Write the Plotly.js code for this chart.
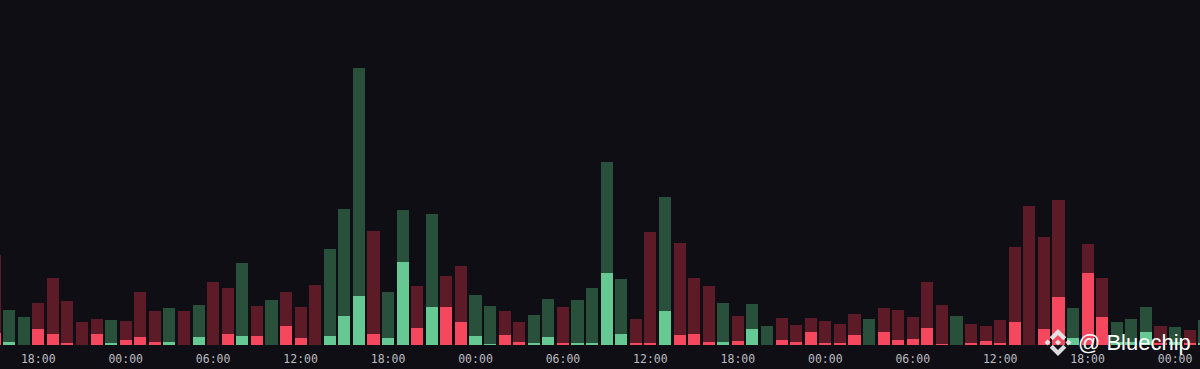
<!DOCTYPE html>
<html>
<head>
<meta charset="utf-8">
<script src="https://cdn.plot.ly/plotly-3.0.1.min.js"></script>
<style>
  html, body { margin: 0; padding: 0; background: #0e0e14; }
  #chart { width: 1200px; height: 369px; }
</style>
</head>
<body>
<div id="chart"></div>
<script>
// Hourly bars, first bar at 15:00 on day 0
const START = '2024-03-10T15:00:00Z';
// side of each hour: B = buy-dominant (green), S = sell-dominant (red)
const side = [
  'S','B','B','S','S','S','S','S','B','S','S','S','B','S','B','S','S','B','S','B',
  'S','S','S','B','B','B','S','B','B','S','B','S','S','B','B','S','S','B','B','S',
  'B','B','B','B','S','S','B','S','S','S','B','S','B','B','S','S','S','S','S','S',
  'B','S','S','S','S','S','B','S','S','S','S','S','S','S','B','S','S','B','B','B',
  'S','B','S','B'
];
// total volume per hour
const totalVol = [
  90.0, 35.0, 28.3, 41.7, 66.7, 44.0, 23.3, 26.0, 25.0, 24.3,
  52.7, 34.0, 37.0, 34.3, 40.5, 62.7, 56.7, 82.0, 39.3, 45.0,
  52.7, 38.0, 60.0, 95.7, 136.0, 276.7, 114.0, 53.3, 135.0, 58.7,
  130.7, 68.7, 78.7, 50.0, 39.0, 33.7, 22.7, 29.7, 46.0, 38.0,
  44.7, 56.7, 183.3, 65.7, 25.7, 112.7, 148.0, 102.0, 67.0, 59.3,
  41.7, 29.0, 41.3, 19.0, 26.7, 20.0, 26.7, 24.0, 21.3, 30.7,
  26.0, 37.0, 35.0, 28.3, 63.3, 40.3, 29.3, 21.3, 19.0, 24.7,
  97.7, 139.0, 108.0, 144.7, 37.0, 101.0, 67.3, 23.3, 25.7, 38.3,
  19.3, 18.3, 15.0, 25.0
];
// highlighted (large-trade) part of each hour's volume
const highlightVol = [
  11.7, 3.0, 0.0, 15.7, 11.0, 2.3, 0.0, 10.7, 2.3, 5.0,
  8.3, 3.3, 3.0, 0.0, 7.8, 0.0, 11.0, 9.0, 9.0, 0.0,
  19.0, 7.3, 0.0, 8.7, 29.0, 49.3, 10.7, 6.7, 83.5, 17.3,
  38.0, 38.0, 22.7, 9.0, 1.5, 9.7, 3.3, 2.3, 8.3, 2.3,
  2.0, 2.0, 71.7, 11.3, 2.3, 2.0, 33.7, 10.0, 11.0, 3.3,
  3.0, 4.0, 15.7, 0.0, 4.7, 3.3, 13.3, 1.7, 2.0, 10.0,
  0.0, 13.0, 5.3, 6.3, 17.0, 1.3, 0.0, 2.0, 4.3, 2.0,
  23.0, 0.0, 16.0, 48.3, 7.0, 72.3, 27.7, 3.3, 3.0, 13.3,
  2.0, 3.0, 2.0, 2.0
];

const HOUR = 3600000;
const t0 = Date.parse(START);
function fmt(ms) {
  const d = new Date(ms);
  const p = n => String(n).padStart(2, '0');
  return d.getUTCFullYear() + '-' + p(d.getUTCMonth() + 1) + '-' + p(d.getUTCDate()) +
    ' ' + p(d.getUTCHours()) + ':' + p(d.getUTCMinutes()) + ':' + p(d.getUTCSeconds());
}
const times = totalVol.map((_, i) => fmt(t0 + i * HOUR));

const DARK = { B: '#29503a', S: '#5c1b27' };
const BRIGHT = { B: '#66c892', S: '#f5485f' };

const barW = 0.83 * HOUR;

const traces = [
  {
    type: 'bar', x: times, y: totalVol, width: barW,
    marker: { color: side.map(s => DARK[s]), line: { width: 0 } },
    hoverinfo: 'skip', showlegend: false
  },
  {
    type: 'bar', x: times, y: highlightVol, width: barW,
    marker: { color: side.map(s => BRIGHT[s]), line: { width: 0 } },
    hoverinfo: 'skip', showlegend: false
  }
];

const logoSvg = "<svg xmlns='http://www.w3.org/2000/svg' viewBox='0 0 126.61 126.61'><g fill='#e8e8ea'>" +
  "<path d='M38.73 53.2 L63.3 28.63 L87.88 53.21 L102.18 38.91 L63.3 0 L24.43 38.87 Z'/>" +
  "<path d='M0 63.31 L14.3 49.01 L28.6 63.31 L14.3 77.61 Z'/>" +
  "<path d='M38.73 73.41 L63.3 97.98 L87.88 73.4 L102.19 87.69 L63.3 126.61 L24.42 87.73 Z'/>" +
  "<path d='M98 63.31 L112.3 49.01 L126.6 63.31 L112.3 77.61 Z'/>" +
  "<path d='M77.83 63.3 L63.3 48.76 L48.76 63.29 L63.3 77.83 Z'/>" +
  "</g></svg>";
const logoUri = 'data:image/svg+xml;base64,' + btoa(logoSvg);

const layout = {
  width: 1200, height: 369,
  margin: { l: 0, r: 0, t: 0, b: 24, pad: 0 },
  paper_bgcolor: '#0e0e14',
  plot_bgcolor: '#0e0e14',
  barmode: 'overlay',
  bargap: 0,
  showlegend: false,
  xaxis: {
    type: 'date',
    range: ['2024-03-10 15:22:30', '2024-03-14 01:42:30'],
    tickformat: '%H:%M',
    dtick: 6 * HOUR,
    tick0: '2024-03-10 00:00:00',
    showgrid: false, zeroline: false, showline: false,
    ticks: '',
    ticklabelstandoff: 5,
    tickfont: { family: 'DejaVu Sans Mono, monospace', size: 11.5, color: '#bcbcc0' },
    fixedrange: true
  },
  yaxis: {
    range: [0, 345],
    visible: false,
    showgrid: false, zeroline: false,
    fixedrange: true
  },
  images: [{
    source: logoUri, xref: 'paper', yref: 'paper',
    x: 1044 / 1200, y: (345 - 329) / 345,
    sizex: 28 / 1200, sizey: 27 / 345,
    xanchor: 'left', yanchor: 'top', sizing: 'contain', layer: 'above', opacity: 0.95
  }],
  annotations: [{
    text: '@ Bluechip', xref: 'paper', yref: 'paper',
    x: 1076 / 1200, y: (345 - 342.4) / 345,
    xanchor: 'left', yanchor: 'middle', showarrow: false,
    font: { family: 'Liberation Sans, Arial, sans-serif', size: 22, color: '#ffffff' }
  }]
};

Plotly.newPlot('chart', traces, layout, { displayModeBar: false, staticPlot: true });
</script>
</body>
</html>
